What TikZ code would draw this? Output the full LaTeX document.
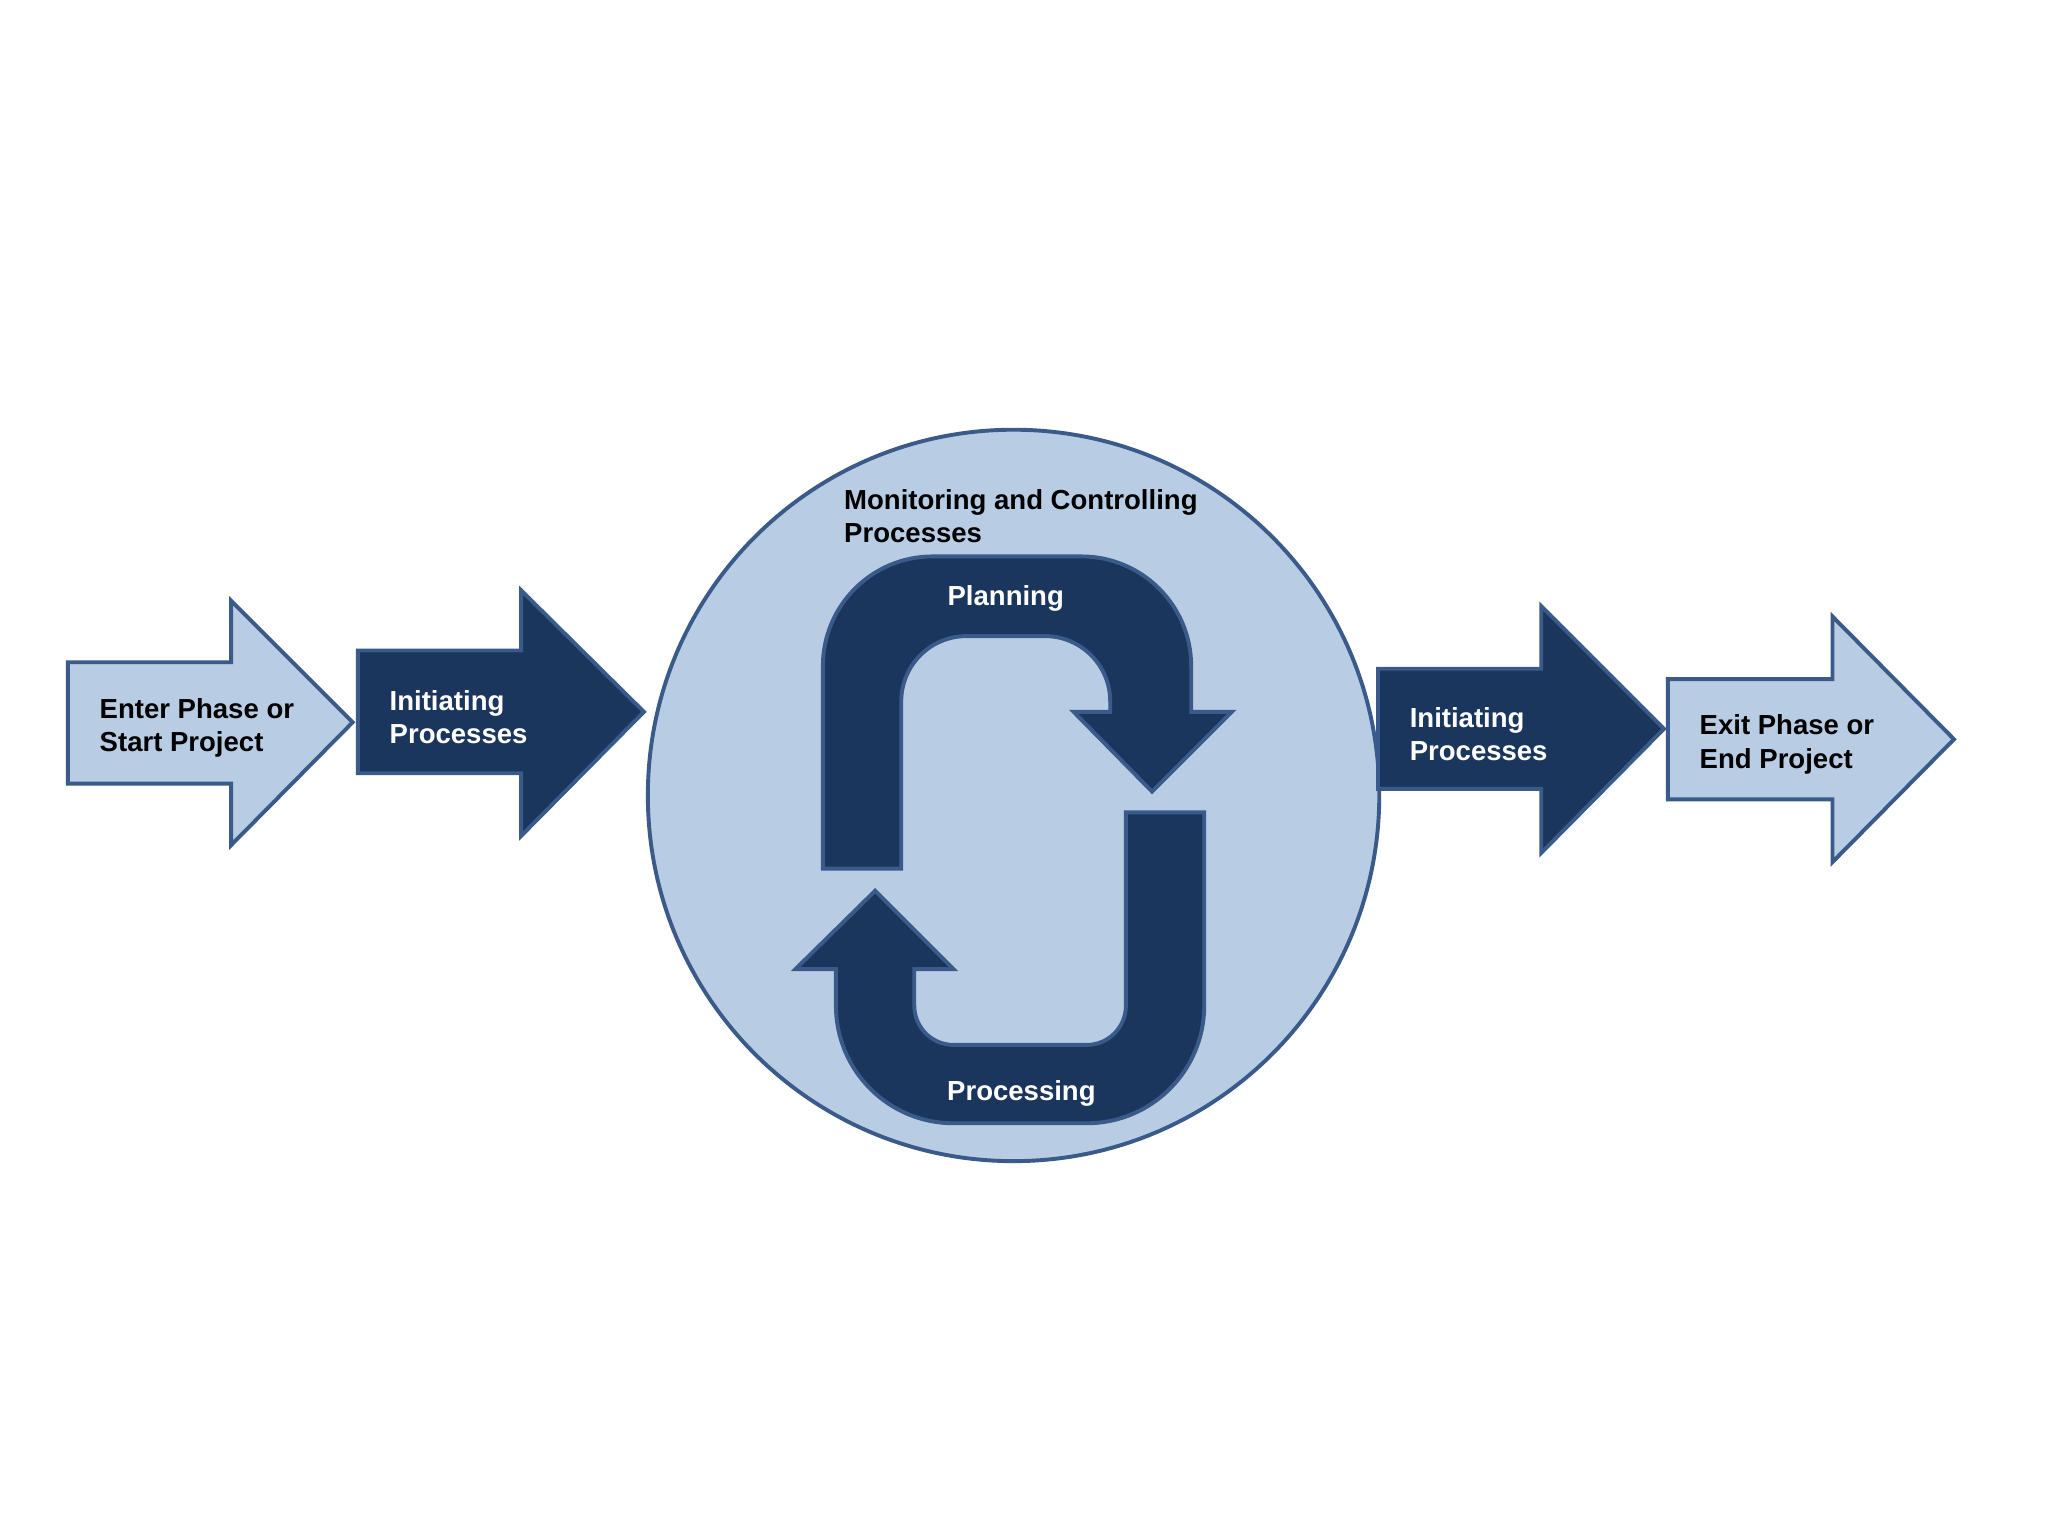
\documentclass[tikz,border=0pt]{standalone}
\usepackage{fontspec}
\setmainfont{Liberation Sans}
\definecolor{lightf}{HTML}{B8CCE4}
\definecolor{darkf}{HTML}{1B365D}
\definecolor{edge}{HTML}{3A5A8A}
\begin{document}
\begin{tikzpicture}[x=0.02cm,y=-0.02cm,
  light/.style={fill=lightf,draw=edge,line width=1.7pt,line join=miter},
  dark/.style={fill=darkf,draw=edge,line width=1.7pt,line join=miter},
  lbl/.style={font=\fontsize{12}{14.5}\selectfont\bfseries,align=left,inner sep=0pt},
  wl/.style={lbl,text=white}]
\useasboundingbox (0,0) rectangle (1568,1176);
\fill[white] (0,0) rectangle (1568,1176);
% left arrows
\draw[light] (52,507) -- (177,507) -- (177,460) -- (270,553) -- (177,647) -- (177,600) -- (52,600) -- cycle;
\draw[dark] (274,498) -- (399,498) -- (399,452) -- (493,545) -- (399,640) -- (399,592) -- (274,592) -- cycle;
% circle
\draw[light] (776,609) circle[radius=280];
% right arrows
\draw[dark] (1055,512) -- (1180,512) -- (1180,464) -- (1274,558) -- (1180,653) -- (1180,604) -- (1055,604) -- cycle;
\draw[light] (1277,520) -- (1403,520) -- (1403,472) -- (1496,566) -- (1403,660) -- (1403,612) -- (1277,612) -- cycle;
% top U arrow
\draw[dark] (630,665) -- (630,510) arc(-180:-90:84) -- (828,426) arc(-90:0:84) -- (912,545) -- (943,545) -- (882,606) -- (822,545) -- (850,545) -- (850,537) arc(0:-90:50) -- (740,487) arc(-90:-180:50) -- (690,665) -- cycle;
% bottom U arrow
\draw[dark] (862,622) -- (922,622) -- (922,770) arc(0:90:90) -- (730,860) arc(90:180:90) -- (640,742) -- (609,742) -- (670,682) -- (730,742) -- (700,742) -- (700,770) arc(-180:-270:30) -- (832,800) arc(-270:-360:30) -- cycle;
% labels
\node[lbl,anchor=west] (t1) at (76,557) {Enter Phase or\\Start Project};
\node[wl,anchor=west] (t2) at (298,549) {Initiating\\Processes};
\node[lbl,anchor=west] (t3) at (646,395) {Monitoring and Controlling\\Processes};
\node[wl] (t4) at (770,458) {Planning};
\node[wl] (t5) at (782,837) {Processing};
\node[wl,anchor=west] (t6) at (1079,562) {Initiating\\Processes};
\node[lbl,anchor=west] (t7) at (1301,570) {Exit Phase or\\End Project};
\end{tikzpicture}
\end{document}
